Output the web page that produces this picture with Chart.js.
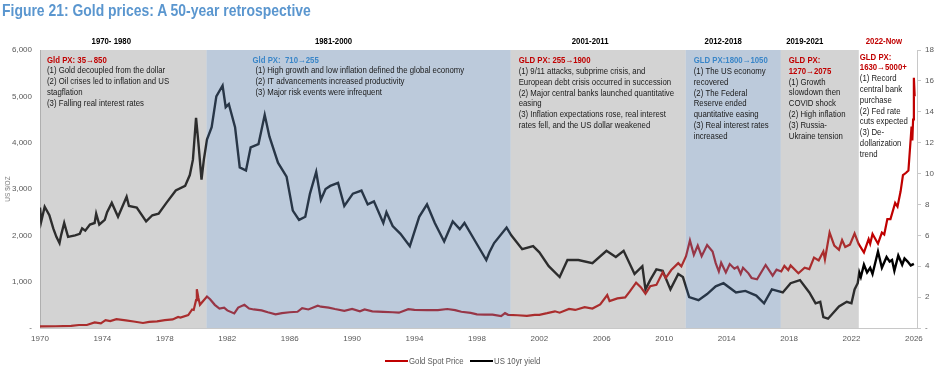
<!DOCTYPE html>
<html>
<head>
<meta charset="utf-8">
<script src="https://cdn.jsdelivr.net/npm/chart.js@4.4.1/dist/chart.umd.min.js"></script>
<style>
  body { margin: 0; background: #fff; }
  #wrap { position: relative; width: 938px; height: 375px; overflow: hidden; }
  .narrow { display: inline-block; transform: scaleX(0.82); transform-origin: 0 50%; white-space: nowrap; }
  #title { position: absolute; left: 2px; top: 1px; font: bold 17px "Liberation Sans", Arial, sans-serif; color: #5a96cf; }
  #chart { position: absolute; left: 0; top: 0; }
  .leg { position: absolute; top: 355px; height: 12px; font: 9.5px "Liberation Sans", Arial, sans-serif; color: #595959; white-space: nowrap; line-height: 12px; }
  .leg .sw { position: absolute; left: 0; top: 5px; width: 23px; height: 2px; }
  .leg .narrow { position: absolute; left: 24px; top: 0; }
</style>
</head>
<body>
<div id="wrap">
  <canvas id="chart" width="938" height="375"></canvas>
  <div id="title" class="narrow">Figure 21: Gold prices: A 50-year retrospective</div>
  <div class="leg" style="left:385px"><span class="sw" style="background:#c00000"></span><span class="narrow">Gold Spot Price</span></div>
  <div class="leg" style="left:470px"><span class="sw" style="background:#000"></span><span class="narrow">US 10yr yield</span></div>
</div>
<script>
// gold spot price, US$/oz (left axis)
var goldYears = [1970, 1971, 1972, 1972.5, 1973, 1973.5, 1973.9, 1974.2, 1974.5, 1974.9, 1975.5, 1976.0, 1976.6, 1977.0, 1977.5, 1978.0, 1978.5, 1978.85, 1979.0, 1979.5, 1979.75, 1979.85, 1980.0, 1980.05, 1980.15, 1980.25, 1980.4, 1980.7, 1980.9, 1981.2, 1981.5, 1981.8, 1982.0, 1982.45, 1982.7, 1983.1, 1983.4, 1983.7, 1984.2, 1984.6, 1985.1, 1985.5, 1986.0, 1986.5, 1986.8, 1987.2, 1987.8, 1988.0, 1988.5, 1988.9, 1989.5, 1990.0, 1990.5, 1990.8, 1991.3, 1992.0, 1992.6, 1993.0, 1993.6, 1994.0, 1994.8, 1995.5, 1996.1, 1996.6, 1997.0, 1997.6, 1998.0, 1998.5, 1999.0, 1999.55, 1999.8, 2000.0, 2000.6, 2001.2, 2001.7, 2002.0, 2002.5, 2003.0, 2003.3, 2003.9, 2004.3, 2004.9, 2005.4, 2005.9, 2006.35, 2006.5, 2007.0, 2007.5, 2007.8, 2008.2, 2008.5, 2008.8, 2009.1, 2009.5, 2009.9, 2010.1, 2010.45, 2010.9, 2011.1, 2011.4, 2011.65, 2011.9, 2012.15, 2012.4, 2012.75, 2013.1, 2013.3, 2013.5, 2013.65, 2013.95, 2014.2, 2014.5, 2014.7, 2014.9, 2015.05, 2015.4, 2015.6, 2015.95, 2016.5, 2016.95, 2017.2, 2017.5, 2017.7, 2017.95, 2018.1, 2018.6, 2019.0, 2019.3, 2019.6, 2019.9, 2020.2, 2020.3, 2020.6, 2020.9, 2021.2, 2021.4, 2021.6, 2021.9, 2022.2, 2022.45, 2022.8, 2023.1, 2023.2, 2023.35, 2023.7, 2023.95, 2024.1, 2024.3, 2024.5, 2024.8, 2024.95, 2025.15, 2025.3, 2025.5, 2025.65, 2025.8, 2025.85, 2025.9, 2025.95, 2026.0, 2026.05];
var goldPrices = [35, 38, 46, 65, 65, 120, 100, 170, 150, 190, 165, 140, 108, 133, 145, 170, 185, 240, 226, 280, 400, 390, 600, 835, 650, 500, 560, 680, 620, 500, 420, 440, 380, 315, 440, 500, 420, 400, 380, 340, 295, 320, 340, 350, 430, 400, 480, 460, 440, 410, 370, 410, 360, 400, 360, 350, 340, 330, 405, 390, 385, 385, 410, 385, 350, 325, 295, 290, 290, 255, 320, 285, 275, 260, 285, 285, 320, 360, 330, 410, 390, 450, 420, 510, 710, 580, 640, 660, 790, 980, 880, 740, 900, 930, 1200, 1080, 1250, 1400, 1330, 1550, 1890, 1580, 1780, 1550, 1790, 1650, 1400, 1220, 1410, 1200, 1380, 1280, 1320, 1170, 1300, 1180, 1080, 1050, 1360, 1130, 1260, 1220, 1340, 1250, 1350, 1180, 1300, 1270, 1520, 1460, 1650, 1480, 2060, 1780, 1690, 1900, 1750, 1800, 2040, 1820, 1630, 1920, 1820, 2030, 1820, 2060, 2020, 2350, 2350, 2700, 2620, 2950, 3300, 3350, 3400, 4100, 4350, 4050, 4500, 5400, 5000];

// US 10yr treasury yield, % (right axis)
var yieldYears = [1970.0, 1970.08, 1970.3, 1970.6, 1970.85, 1971.05, 1971.25, 1971.35, 1971.55, 1971.8, 1972.25, 1972.55, 1972.7, 1972.9, 1973.2, 1973.5, 1973.6, 1973.8, 1974.15, 1974.3, 1974.6, 1975.0, 1975.55, 1975.7, 1976.2, 1976.8, 1977.2, 1977.6, 1978.1, 1978.7, 1979.3, 1979.6, 1979.8, 1980.0, 1980.15, 1980.35, 1980.5, 1980.7, 1981.0, 1981.3, 1981.7, 1981.9, 1982.1, 1982.5, 1982.8, 1983.2, 1983.5, 1984.0, 1984.4, 1984.7, 1985.25, 1985.8, 1986.2, 1986.6, 1987.0, 1987.3, 1987.7, 1988.0, 1988.3, 1988.6, 1989.1, 1989.5, 1990.05, 1990.6, 1991.0, 1991.4, 1992.0, 1992.2, 1992.6, 1993.1, 1993.7, 1994.3, 1994.8, 1995.3, 1995.9, 1996.45, 1996.9, 1997.2, 1997.9, 1998.6, 1998.8, 1999.1, 1999.9, 2000.2, 2000.9, 2001.6, 2002.0, 2002.6, 2003.3, 2003.8, 2004.5, 2005.4, 2006.3, 2006.9, 2007.4, 2008.1, 2008.6, 2008.8, 2009.1, 2009.5, 2009.9, 2010.4, 2010.9, 2011.2, 2011.6, 2012.2, 2012.75, 2013.3, 2013.8, 2014.6, 2015.2, 2015.9, 2016.4, 2016.9, 2017.6, 2018.1, 2018.7, 2019.3, 2019.7, 2020.0, 2020.2, 2020.5, 2021.2, 2021.7, 2022.0, 2022.2, 2022.4, 2022.5, 2022.6, 2022.8, 2023.0, 2023.2, 2023.35, 2023.7, 2023.95, 2024.25, 2024.45, 2024.6, 2024.75, 2025.0, 2025.25, 2025.4, 2025.6, 2025.8, 2026.0];
var yieldValues = [7.8, 6.9, 7.85, 7.3, 6.45, 5.9, 5.5, 6.0, 6.8, 5.9, 6.0, 6.1, 6.45, 6.3, 6.7, 6.8, 7.4, 6.7, 7.0, 7.5, 8.1, 7.2, 8.5, 7.9, 7.8, 6.9, 7.3, 7.4, 8.1, 8.9, 9.2, 9.9, 10.9, 13.6, 12.0, 9.6, 10.9, 12.2, 13.0, 15.0, 15.7, 14.3, 14.5, 13.0, 10.4, 10.2, 11.7, 11.9, 13.8, 12.4, 10.7, 9.8, 7.6, 7.0, 7.2, 8.7, 10.1, 8.3, 9.0, 9.2, 9.4, 7.9, 8.7, 8.9, 8.0, 8.2, 6.8, 7.5, 6.6, 6.1, 5.3, 7.2, 8.0, 6.8, 5.6, 6.9, 6.4, 6.8, 5.6, 4.4, 4.9, 5.5, 6.5, 6.0, 5.1, 5.3, 4.9, 4.0, 3.3, 4.4, 4.4, 4.2, 5.0, 4.6, 5.0, 3.5, 4.0, 2.5, 3.1, 3.8, 3.7, 2.5, 3.5, 3.3, 2.0, 1.8, 2.2, 2.7, 2.9, 2.3, 2.4, 2.1, 1.6, 2.5, 2.3, 2.9, 3.1, 2.3, 1.6, 1.7, 0.7, 0.6, 1.4, 1.7, 1.6, 2.5, 2.9, 3.6, 3.3, 4.1, 3.6, 3.9, 3.5, 4.95, 3.9, 4.6, 4.3, 4.4, 3.7, 4.7, 4.1, 4.5, 4.3, 4.05, 4.15];

var tickYears = [1970, 1974, 1978, 1982, 1986, 1990, 1994, 1998, 2002, 2006, 2010, 2014, 2018, 2022, 2026];

// periods shaded behind the annotations
var periodStart = [1970, 1980.67, 2000.16, 2011.38, 2017.47, 2022.47];
var periodEnd = [1980.67, 2000.16, 2011.38, 2017.47, 2022.47, 2026.2];
var periodLabels = ['1970- 1980', '1981-2000', '2001-2011', '2012-2018', '2019-2021', '2022-Now'];
var periodHeads = [
  ['Gld PX: 35\u2192850'],
  ['Gld PX:  710\u2192255'],
  ['GLD PX: 255\u21921900'],
  ['GLD PX:1800\u21921050'],
  ['GLD PX:', '1270\u21922075'],
  ['GLD PX:', '1630\u21925000+']
];
var periodNotes = [
  ['(1) Gold decoupled from the dollar', '(2) Oil crises led to inflation and US', 'stagflation', '(3) Falling real interest rates'],
  ['(1) High growth and low inflation defined the global economy', '(2) IT advancements increased productivity', '(3) Major risk events were infrequent'],
  ['(1) 9/11 attacks, subprime crisis, and', 'European debt crisis occurred in succession', '(2) Major central banks launched quantitative', 'easing', '(3) Inflation expectations rose, real interest', 'rates fell, and the US dollar weakened'],
  ['(1) The US economy', 'recovered', '(2) The Federal', 'Reserve ended', 'quantitative easing', '(3) Real interest rates', 'increased'],
  ['(1) Growth', 'slowdown then', 'COVID shock', '(2) High inflation', '(3) Russia-', 'Ukraine tension'],
  ['(1) Record', 'central bank', 'purchase', '(2) Fed rate', 'cuts expected', '(3) De-', 'dollarization', 'trend']
];

// look of each period box
var FONT = '"Liberation Sans", Arial, sans-serif';
var SQUEEZE = 0.82; // no narrow face installed, so squeeze text sideways
var boxFill = ['rgba(130,130,130,0.35)', 'rgba(95,129,169,0.42)', 'rgba(130,130,130,0.35)', 'rgba(95,129,169,0.42)', 'rgba(130,130,130,0.35)', null];
var headColor = ['#c00000', '#3a86c8', '#c00000', '#3a86c8', '#c00000', '#c00000'];
var textLeft = [7, 46, 8, 8, 8, 1];
var noteIndent = [0, 3, 0, 0, 0, 0];
var textTop = [60, 60, 60.5, 60.5, 60.3, 57];
var labelShift = [-12, -25, -8, -10, -15, -4];
var lineH = 10.8;

Chart.defaults.font.family = FONT;

function squeezed(ctx, t, x, y, align) {
  ctx.save();
  ctx.translate(x, y);
  ctx.scale(SQUEEZE, 1);
  ctx.textAlign = align;
  ctx.fillText(t, 0, 0);
  ctx.restore();
}

var periods = {
  id: 'periods',
  afterDatasetsDraw: function (chart) {
    var ctx = chart.ctx, a = chart.chartArea, x = chart.scales.x;
    ctx.save();
    ctx.textBaseline = 'middle';
    for (var i = 0; i < periodStart.length; i++) {
      var l = x.getPixelForValue(periodStart[i]);
      var r = x.getPixelForValue(periodEnd[i]);
      if (boxFill[i]) {
        ctx.fillStyle = boxFill[i];
        ctx.fillRect(l, a.top, r - l, a.bottom - a.top);
      }
      // header above the plot
      ctx.font = 'bold 9.5px ' + FONT;
      ctx.fillStyle = i === 5 ? '#c00000' : '#000';
      squeezed(ctx, periodLabels[i], (l + r) / 2 + labelShift[i], 41, 'center');
      // text inside the box
      var y = textTop[i];
      ctx.fillStyle = headColor[i];
      periodHeads[i].forEach(function (t) {
        squeezed(ctx, t, l + textLeft[i], y, 'left');
        y += lineH;
      });
      ctx.font = '9.5px ' + FONT;
      ctx.fillStyle = '#1a1a1a';
      periodNotes[i].forEach(function (t) {
        squeezed(ctx, t, l + textLeft[i] + noteIndent[i], y, 'left');
        y += lineH;
      });
    }
    ctx.restore();
  }
};

var tickStyle = { color: '#595959', font: { size: 8 } };

new Chart(document.getElementById('chart'), {
  type: 'line',
  data: {
    datasets: [{
      label: 'Gold Spot Price',
      data: goldYears.map(function (yr, i) { return { x: yr, y: goldPrices[i] }; }),
      borderColor: '#c00000',
      borderWidth: 2.2,
      pointRadius: 0,
      yAxisID: 'y'
    }, {
      label: 'US 10yr yield',
      data: yieldYears.map(function (yr, i) { return { x: yr, y: yieldValues[i] }; }),
      borderColor: '#000',
      borderWidth: 2.4,
      pointRadius: 0,
      yAxisID: 'y1'
    }]
  },
  options: {
    responsive: false,
    animation: false,
    devicePixelRatio: 1,
    layout: { padding: { top: 50, bottom: 27, left: 0, right: 0 } },
    plugins: { legend: { display: false }, tooltip: { enabled: false } },
    scales: {
      x: {
        type: 'linear', min: 1970, max: 2026.2,
        afterFit: function (s) { s.height = 20; },
        afterBuildTicks: function (s) { s.ticks = tickYears.map(function (v) { return { value: v }; }); },
        grid: { display: false, drawTicks: false },
        border: { color: '#c8c8c8' },
        ticks: Object.assign({ padding: 6, maxRotation: 0, autoSkip: false,
          callback: function (v) { return String(v); } }, tickStyle)
      },
      y: {
        position: 'left', min: 0, max: 6000,
        afterFit: function (s) { s.width = 40; },
        grid: { display: false, drawTicks: false },
        border: { color: '#c8c8c8' },
        title: { display: true, text: 'US $/OZ', color: '#7f7f7f', font: { size: 6.5 }, padding: { top: 4, bottom: 0 } },
        ticks: Object.assign({ stepSize: 1000, padding: 8,
          callback: function (v) { return v === 0 ? '-' : v.toLocaleString('en-US'); } }, tickStyle)
      },
      y1: {
        position: 'right', min: 0, max: 18,
        afterFit: function (s) { s.width = 21; },
        grid: { drawOnChartArea: false, tickLength: 4, color: '#c8c8c8' },
        border: { color: '#c8c8c8' },
        ticks: Object.assign({ stepSize: 2, padding: 4,
          callback: function (v) { return v === 0 ? '-' : String(v); } }, tickStyle)
      }
    }
  },
  plugins: [periods]
});
</script>
</body>
</html>
